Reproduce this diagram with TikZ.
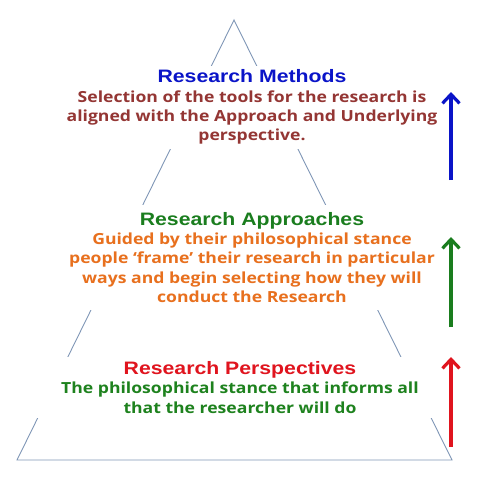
\documentclass[tikz,border=0pt]{standalone}
\usepackage{fontspec}
\usepackage{tikz}
\usetikzlibrary{arrows.meta}
\newfontfamily\headfont[FakeStretch=1.18]{Liberation Sans}
\newfontfamily\bodyfont[FakeStretch=1.15]{Open Sans}
\definecolor{edgeblue}{RGB}{127,150,182}
\definecolor{methblue}{RGB}{10,20,200}
\definecolor{methred}{RGB}{148,54,52}
\definecolor{apprgreen}{RGB}{26,125,30}
\definecolor{appror}{RGB}{232,112,30}
\definecolor{perspred}{RGB}{224,20,30}
\definecolor{perspgreen}{RGB}{30,130,30}

\begin{document}
\begin{tikzpicture}[x=1pt,y=-1pt,
  block/.style={fill=white,inner sep=0pt,align=center,
    font=\bodyfont\bfseries\fontsize{15.3}{19.2}\selectfont},
  rise/.style={line width=3.2pt,-{Straight Barb[length=9pt,width=17pt]}}]
\useasboundingbox (0,0) rectangle (480,480);
% pyramid outline
\draw[edgeblue,line width=0.9pt] (17,460) -- (234,20) -- (452,460) -- cycle;
% the three levels
\node[block,minimum height=83pt] (methods) at (252,107)
  {\textcolor{methblue}{\headfont\fontsize{18}{19}\selectfont Research Methods}\\
   \textcolor{methred}{Selection of the tools for the research is}\\
   \textcolor{methred}{aligned with the Approach and Underlying}\\
   \textcolor{methred}{perspective.}};
\node[block,minimum height=105pt] (approaches) at (252,257.5)
  {\textcolor{apprgreen}{\headfont\fontsize{18}{19}\selectfont Research Approaches}\\
   \textcolor{appror}{Guided by their philosophical stance}\\
   \textcolor{appror}{people ‘frame’ their research in particular}\\
   \textcolor{appror}{ways and begin selecting how they will}\\
   \textcolor{appror}{conduct the Research}};
\node[block,minimum height=61pt,minimum width=410pt] (perspectives) at (240,387.5)
  {\textcolor{perspred}{\headfont\fontsize{18}{19}\selectfont Research Perspectives}\\
   \textcolor{perspgreen}{The philosophical stance that informs all}\\
   \textcolor{perspgreen}{that the researcher will do}};
% arrows on the right
\draw[rise,methblue] (451,180) -- (451,92);
\draw[rise,apprgreen] (451,327) -- (451,237);
\draw[rise,perspred] (451,447) -- (451,357);
\end{tikzpicture}
\end{document}
